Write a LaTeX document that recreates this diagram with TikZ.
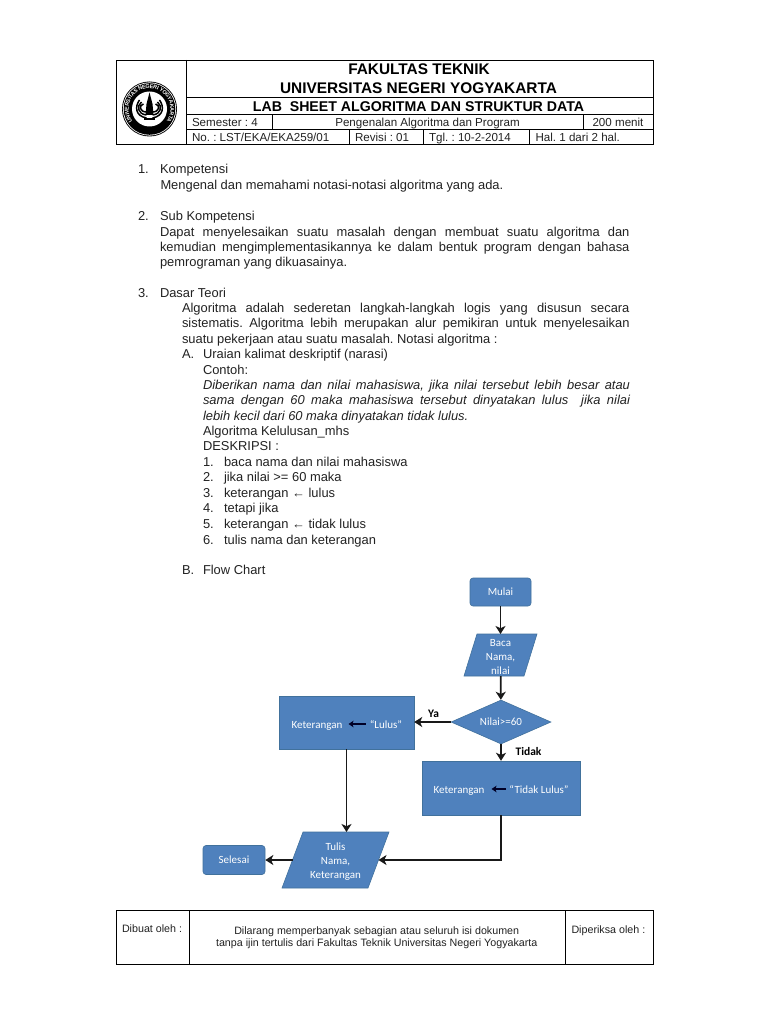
\documentclass[tikz,border=0pt]{standalone}
\usepackage{fontspec}
\usetikzlibrary{shapes.geometric,arrows.meta,decorations.text,calc}
\setmainfont{Liberation Sans}
\newfontfamily\flowfont{Carlito}
\newcommand\fsz[1]{\fontsize{#1}{#1}\selectfont}
\frenchspacing
\definecolor{ink}{HTML}{222222}
\definecolor{blok}{HTML}{4F81BD}
\definecolor{blokline}{HTML}{41719C}
\tikzset{
  x=1pt,y=-1pt,
  txt/.style={anchor=base west,inner sep=0,outer sep=0,text=ink,font=\fsz{12.9}},
  itx/.style={anchor=base west,inner sep=0,outer sep=0,text=ink,font=\fsz{12.9}\itshape},
  tbl/.style={anchor=base west,inner sep=0,outer sep=0,text=ink,font=\fsz{11.6}},
  tblc/.style={anchor=base,inner sep=0,outer sep=0,text=ink,font=\fsz{11.6}},
  foot/.style={anchor=base,inner sep=0,outer sep=0,text=ink,font=\fsz{10.7}},
  head/.style={anchor=base,inner sep=0,outer sep=0,text=black,font=\fsz{15.4}\bfseries},
  rule/.style={draw=black,line width=0.9pt},
  fl/.style={anchor=base,text=white,inner sep=0,font=\flowfont\fsz{11},align=center},
  blk/.style={fill=blok,draw=blokline,line width=0.6pt},
  rbox/.style={blk,rounded corners=3pt,minimum width=61pt,minimum height=28pt,text=white,inner sep=0,font=\flowfont\fsz{11}},
  sbox/.style={fill=blok,draw=blokline,line width=0.4pt,text=white,inner sep=0},
  para/.style={inner sep=0,outer sep=0,text=white,font=\flowfont\fsz{11},align=center},
  arr/.style={draw=black!90,line width=1.8pt,-{Stealth[length=8pt,width=10pt,inset=2.2pt]}},
  inarr/.style={draw=black!85!blue,line width=1.3pt,-{Stealth[length=5pt,width=6.5pt,inset=1.2pt]}},
  lab/.style={text=black,inner sep=0,font=\flowfont\bfseries\fsz{11.5}},
}
\newcommand\J[2]{\makebox[#1pt][s]{#2}}
\begin{document}
\begin{tikzpicture}
\useasboundingbox (0,0) rectangle (768,1024);
\fill[white] (0,0) rectangle (768,1024);

% header table
\draw[rule] (116,60) rectangle (653,144.5);
\draw[rule] (186,60) -- (186,144.5);
\draw[rule] (186,97.5) -- (653,97.5);
\draw[rule] (186,114.5) -- (653,114.5);
\draw[rule] (186,129.5) -- (653,129.5);
\draw[rule] (272,114.5) -- (272,129.5);
\draw[rule] (583,114.5) -- (583,129.5);
\draw[rule] (349,129.5) -- (349,144.5);
\draw[rule] (423,129.5) -- (423,144.5);
\draw[rule] (529,129.5) -- (529,144.5);

\node[head] (h1) at (419,74.3) {FAKULTAS TEKNIK};
\node[head] (h2) at (418.5,93.2) {UNIVERSITAS NEGERI YOGYAKARTA};
\node[head,font=\fsz{14.15}\bfseries] (h3) at (418.5,111.2) {LAB\ \ SHEET ALGORITMA DAN STRUKTUR DATA};
\node[tbl] (t1) at (192,127) {Semester : 4};
\node[tblc] (t2) at (427.5,127) {Pengenalan Algoritma dan Program};
\node[tblc] (t3) at (618,127) {200 menit};
\node[tbl] (t4) at (192,141.2) {No. : LST/EKA/EKA259/01};
\node[tbl] (t5) at (355,141.2) {Revisi : 01};
\node[tbl] (t6) at (429,141.2) {Tgl. : 10-2-2014};
\node[tbl] (t7) at (535.5,141.2) {Hal. 1 dari 2 hal.};

% logo
\fill[black] (149.5,109) circle (27.5);
\fill[white] (149.5,109) circle (26.6);
\fill[black] (149.5,109) circle (25.8);
\fill[white] (149.5,109) circle (17.5);
\path[decorate,decoration={text along path,text align=center,raise=-1.6pt,
  text={|\fsz{5.4}\bfseries\color{white}|UNIVERSITAS NEGERI YOGYAKARTA}}]
  (138.25,128.5) arc[start angle=120,end angle=420,radius=22.5];
\foreach \r in {0,1,2}{
  \draw[black,line width=1.5pt] ($(149.5,109)+(-3,9-\r*3)$) .. controls ($(149.5,109)+(-14+\r*2,7-\r*2)$) and ($(149.5,109)+(-15+\r*2,-2-\r)$) .. ($(149.5,109)+(-10+\r*2,-9+\r*2)$);
  \draw[black,line width=1.5pt] ($(149.5,109)+(3,9-\r*3)$) .. controls ($(149.5,109)+(14-\r*2,7-\r*2)$) and ($(149.5,109)+(15-\r*2,-2-\r)$) .. ($(149.5,109)+(10-\r*2,-9+\r*2)$);
}
\fill[black] (149.5,92.5) -- (152.5,104) -- (153.5,115) -- (145.5,115) -- (146.5,104) -- cycle;
\fill[black] (144,118) rectangle (155,120);

% body
\node[txt] (a1) at (138,173.5) {1.};
\node[txt] (a1t) at (160,173.5) {Kompetensi};
\node[txt] (a1b) at (160.5,189.5) {Mengenal dan memahami notasi-notasi algoritma yang ada.};
\node[txt] (a2) at (138,220.5) {2.};
\node[txt] (a2t) at (160,220.5) {Sub Kompetensi};
\node[txt] (a2b) at (160,236.5) {\J{469.5}{Dapat menyelesaikan suatu masalah dengan membuat suatu algoritma dan}};
\node[txt] (a2c) at (160,251.5) {\J{469.5}{kemudian mengimplementasikannya ke dalam bentuk program dengan bahasa}};
\node[txt] (a2d) at (160,266.5) {pemrograman yang dikuasainya.};
\node[txt] (a3) at (138,297) {3.};
\node[txt] (a3t) at (160,297) {Dasar Teori};
\node[txt] (a3b) at (182,312.3) {\J{447.5}{Algoritma adalah sederetan langkah-langkah logis yang disusun secara}};
\node[txt] (a3c) at (182,327.8) {\J{447.5}{sistematis. Algoritma lebih merupakan alur pemikiran untuk menyelesaikan}};
\node[txt] (a3d) at (182,343) {suatu pekerjaan atau suatu masalah. Notasi algoritma :};
\node[txt] (ka) at (182,358.5) {A.};
\node[txt] (kat) at (203,358.5) {Uraian kalimat deskriptif (narasi)};
\node[txt] (c0) at (203,374) {Contoh:};
\node[itx] (c1) at (203,389) {\J{427}{Diberikan nama dan nilai mahasiswa, jika nilai tersebut lebih besar atau}};
\node[itx] (c2) at (203,404.5) {\J{427}{sama dengan 60 maka mahasiswa tersebut dinyatakan lulus\ \ jika nilai}};
\node[itx] (c3) at (203,420) {lebih kecil dari 60 maka dinyatakan tidak lulus.};
\node[txt] (c4) at (203,435) {Algoritma Kelulusan\_mhs};
\node[txt] (c5) at (203,450.5) {DESKRIPSI :};
\node[txt] (n1) at (203,466) {1.};
\node[txt] (n1t) at (224,466) {baca nama dan nilai mahasiswa};
\node[txt] (n2) at (203,481.5) {2.};
\node[txt] (n2t) at (224,481.5) {jika nilai >= 60 maka};
\node[txt] (n3) at (203,497) {3.};
\node[txt] (n3t) at (224,497) {keterangan ← lulus};
\node[txt] (n4) at (203,512.5) {4.};
\node[txt] (n4t) at (224,512.5) {tetapi jika};
\node[txt] (n5) at (203,528.5) {5.};
\node[txt] (n5t) at (224,528.5) {keterangan ← tidak lulus};
\node[txt] (n6) at (203,544) {6.};
\node[txt] (n6t) at (224,544) {tulis nama dan keterangan};
\node[txt] (kb) at (182,574) {B.};
\node[txt] (kbt) at (203,574) {Flow Chart};

% flow chart shapes
\filldraw[blk] (477,634) -- (537,634) -- (524,676) -- (464,676) -- cycle;
\filldraw[blk] (303,832) -- (389,832) -- (368,888) -- (282,888) -- cycle;
\node[rbox] (mulai) at (500.5,592) {Mulai};
\node[para,minimum width=60pt,minimum height=42pt] (baca) at (500.5,655) {\rule{0pt}{11pt}Baca\\[3pt]Nama,\\[3pt]nilai};
\node[diamond,blk,text=white,inner sep=0,minimum width=100pt,minimum height=44pt,aspect=2.27,font=\flowfont\fsz{11}] (dec) at (501,722) {Nilai>=60};
\node[sbox,minimum width=135pt,minimum height=53pt] (lulus) at (346.5,722.5) {};
\node[sbox,minimum width=158pt,minimum height=54pt] (tl) at (501,788) {};
\node[para,minimum width=86pt,minimum height=56pt] (tulis) at (335.5,860) {\rule{0pt}{11pt}Tulis\\[3pt]Nama,\\[3pt]Keterangan};
\node[rbox,minimum width=62pt,minimum height=29pt] (selesai) at (234,860) {Selesai};

\node[fl] (k1) at (317,728) {Keterangan};
\node[fl] (v1) at (386,728) {“Lulus”};
\node[fl] (k2) at (459,793) {Keterangan};
\node[fl] (v2) at (539,793) {“Tidak Lulus”};
\draw[inarr] ($(v1.base west)+(-4,-4)$) -- ($(k1.base east)+(6,-4)$);
\draw[inarr] ($(v2.base west)+(-3,-4)$) -- ($(k2.base east)+(7,-4)$);

% connectors
\draw[arr] (mulai) -- (baca);
\draw[arr] (baca) -- (dec);
\draw[arr] (dec) -- (dec -| lulus.east);
\draw[arr] (dec) -- (tl);
\draw[arr] (lulus.south) -- (lulus.south |- tulis.north);
\draw[arr] (tl.south) |- (tulis.east);
\draw[arr] (tulis.west) -- (selesai.east);
\node[lab] (ya) at (433.5,714) {Ya};
\node[lab] (tidak) at (528.5,751) {Tidak};

% footer
\draw[rule] (116,910.7) rectangle (653,964.5);
\draw[rule] (189,910.7) -- (189,964.5);
\draw[rule] (565.5,910.7) -- (565.5,964.5);
\node[foot,anchor=base west] (f1) at (122,932.8) {Dibuat oleh :};
\node[foot] (f2) at (376.7,934.3) {Dilarang memperbanyak sebagian atau seluruh isi dokumen};
\node[foot] (f3) at (376.7,946.8) {tanpa ijin tertulis dari Fakultas Teknik Universitas Negeri Yogyakarta};
\node[foot,anchor=base west] (f4) at (571.5,933.5) {Diperiksa oleh :};
\end{tikzpicture}
\end{document}
